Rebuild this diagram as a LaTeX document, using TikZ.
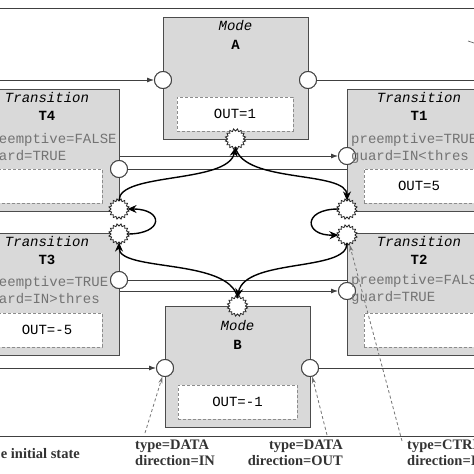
\documentclass[tikz,border=0pt]{standalone}
\usepackage{fontspec}
\setmainfont{Liberation Serif}
\newfontfamily\monof{Liberation Mono}
\usetikzlibrary{shapes.geometric,arrows.meta}
\begin{document}
\begin{tikzpicture}[x=1pt,y=-1pt,
 boxx/.style={draw=black!70, fill=black!15, line width=1pt, inner sep=0},
 inbox/.style={draw=black!45, fill=white, line width=0.9pt, dash pattern=on 3pt off 2pt, inner sep=0},
 port/.style={circle, draw=black!75, fill=white, minimum size=17pt, inner sep=0, line width=0.9pt},
 sb/.style={star, star points=16, star point ratio=0.78, draw=black!85, fill=white, minimum size=16pt, inner sep=0, line width=0.8pt},
 wire/.style={draw=black!75, line width=0.9pt},
 wirea/.style={wire, -{Latex[length=7pt,width=5pt]}},
 flow/.style={line width=1.4pt, -{Stealth[length=9pt,width=8pt,inset=3pt]}},
 note/.style={draw=black!55, line width=0.8pt, dash pattern=on 3pt off 2.5pt, -{Stealth[length=7pt,width=4pt]}},
 mt/.style={font=\monof\fontsize{14}{16}\selectfont, inner sep=0},
 mti/.style={font=\monof\itshape\fontsize{14}{16}\selectfont, inner sep=0},
 mtb/.style={font=\monof\bfseries\fontsize{14}{16}\selectfont, inner sep=0},
 mtg/.style={font=\monof\fontsize{14}{16}\selectfont, text=black!55, inner sep=0, anchor=west},
 lab/.style={font=\bfseries\fontsize{14.5}{16}\selectfont, text=black!80, inner sep=0, align=left}
]
\clip (0,0) rectangle (474,474);
\fill[white] (0,0) rectangle (474,474);
% frame
\node[draw=black!75, line width=1pt, minimum width=500pt, minimum height=428pt, inner sep=0] (frame) at (237,222) {};
% free ends of wires
\coordinate (la) at (-5,80);
\coordinate (ra) at (480,80);
\coordinate (lb) at (-5,368);
\coordinate (rb) at (480,368);
% boxes
\node[boxx, minimum width=145pt, minimum height=122pt] (A) at (235.5,78) {};
\node[boxx, minimum width=145pt, minimum height=121pt] (B) at (237.5,366.5) {};
\node[boxx, minimum width=144pt, minimum height=122pt] (T4) at (47,150) {};
\node[boxx, minimum width=144pt, minimum height=122pt] (T1) at (419,150) {};
\node[boxx, minimum width=144pt, minimum height=122pt] (T3) at (47,294) {};
\node[boxx, minimum width=144pt, minimum height=122pt] (T2) at (419,294) {};
% ports
\node[port] (ain) at (163,80) {};
\node[port] (aout) at (308,80) {};
\node[port] (bin) at (165,368) {};
\node[port] (bout) at (310,368) {};
\node[port] (t4o) at (119,169) {};
\node[port] (t1i) at (347,156) {};
\node[port] (t3o) at (119,280) {};
\node[port] (t2i) at (347,291) {};
% wires
\draw[wirea] (la) -- (ain);
\draw[wire] (aout) -- (ra);
\draw[wirea] (lb) -- (bin);
\draw[wire] (bout) -- (rb);
\draw[wirea] (t1i -| T4.east) -- (t1i);
\draw[wire] (t4o) -- (t4o -| T1.west);
\draw[wire] (t3o) -- (t3o -| T2.west);
\draw[wirea] (t2i -| T3.east) -- (t2i);
% redraw ports on top of wires
\node[port] at (ain) {};
\node[port] at (aout) {};
\node[port] at (bin) {};
\node[port] at (bout) {};
\node[port] at (t4o) {};
\node[port] at (t1i) {};
\node[port] at (t3o) {};
\node[port] at (t2i) {};
% inner dashed boxes
\node[inbox, minimum width=116pt, minimum height=34pt] (Ad) at (235,114) {};
\node[inbox, minimum width=119pt, minimum height=34pt] (Bd) at (237.5,402) {};
\node[inbox, minimum width=110pt, minimum height=34pt] (T4d) at (47,186) {};
\node[inbox, minimum width=110pt, minimum height=34pt] (T1d) at (419,186) {};
\node[inbox, minimum width=110pt, minimum height=34pt] (T3d) at (47,330) {};
\node[inbox, minimum width=110pt, minimum height=34pt] (T2d) at (419,330) {};
\node[mt] (Ao) at (Ad) {OUT=1};
\node[mt] (Bo) at (Bd) {OUT=-1};
\node[mt] (T1o) at (T1d) {OUT=5};
\node[mt] (T3o) at (T3d) {OUT=-5};
% titles
\node[mti] (Amode) at (235.5,26) {Mode};
\node[mtb] (Aname) at (235.5,45) {A};
\node[mti] (Bmode) at (237.5,326) {Mode};
\node[mtb] (Bname) at (237.5,345) {B};
\node[mti] (T4t) at (47,97) {Transition};
\node[mtb] (T4n) at (47,116) {T4};
\node[mti] (T1t) at (419,97) {Transition};
\node[mtb] (T1n) at (419,116) {T1};
\node[mti] (T3t) at (47,241) {Transition};
\node[mtb] (T3n) at (47,260) {T3};
\node[mti] (T2t) at (419,241) {Transition};
\node[mtb] (T2n) at (419,260) {T2};
% attributes
\node[mtg] (T4p) at (-18,140) {preemptive=FALSE};
\node[mtg] (T4g) at (-18,157) {guard=TRUE};
\node[mtg] (T1p) at (351,140) {preemptive=TRUE};
\node[mtg] (T1g) at (351,157) {guard=IN<thres};
\node[mtg] (T3p) at (-18,283) {preemptive=TRUE};
\node[mtg] (T3g) at (-18,300) {guard=IN>thres};
\node[mtg] (T2p) at (351,281) {preemptive=FALSE};
\node[mtg] (T2g) at (351,298) {guard=TRUE};
% starbursts
\node[sb] (as) at (235.5,139) {};
\node[sb] (bs) at (237.5,306) {};
\node[sb] (t4s) at (119,209) {};
\node[sb] (t1s) at (347,209) {};
\node[sb] (t3s) at (119,234) {};
\node[sb] (t2s) at (347,235) {};
% control flow
\draw[flow] (t4s.north) .. controls (119,172) and (228,184) .. (as.south);
\draw[flow] (as.south) .. controls (244,184) and (347,170) .. (t1s.north);
\draw[flow] (t1s.west) .. controls (302,209) and (304,236) .. (t2s.west);
\draw[flow] (t2s.south) .. controls (347,272) and (245,258) .. (bs.north);
\draw[flow] (bs.north) .. controls (229,258) and (119,272) .. (t3s.south);
\draw[flow] (t3s.east) .. controls (164,234) and (164,209) .. (t4s.east);
% labels below
\node[lab, anchor=north west] (l1) at (135,440) {type=DATA\\direction=IN};
\node[lab, anchor=north east, align=right] (l2) at (343,440) {type=DATA\\direction=OUT};
\node[lab, anchor=north west] (l3) at (407,440) {type=CTRL\\direction=IN};
\node[lab, anchor=east] (l0) at (80,454) {e initial state};
\coordinate (n1) at (145,433);
\coordinate (n2) at (327,435);
\coordinate (n3) at (402,441);
\draw[note] (n1) -- (bin);
\draw[note] (n2) -- (bout);
\draw[note] (n3) -- (t2s);
\coordinate (tk1) at (468,41);
\coordinate (tk2) at (474,43);
\draw[black!60, line width=0.7pt] (tk1) -- (tk2);
\end{tikzpicture}
\end{document}
